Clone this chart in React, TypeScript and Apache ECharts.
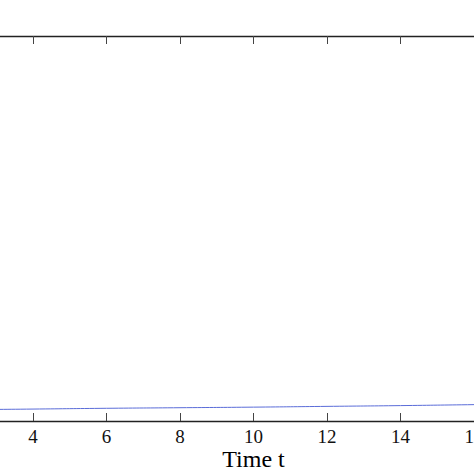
import * as echarts from 'echarts'
import { useEffect, useRef } from 'react'

// time samples and the (small) state value
const times = [0, 2, 4, 6, 8, 10, 12, 14, 16, 18, 20]
const values = [0.026, 0.029, 0.031, 0.033, 0.0345, 0.036, 0.038, 0.04, 0.0425, 0.045, 0.048]
const xTicks = [0, 2, 4, 6, 8, 10, 12, 14, 16, 18, 20]

const serif = 'Liberation Serif, Times New Roman, serif'

export default function App() {
  const ref = useRef<HTMLDivElement | null>(null)

  useEffect(() => {
    if (!ref.current) return
    const chart = echarts.init(ref.current, undefined, { renderer: 'svg' })

    const axisCommon = {
      type: 'value' as const,
      min: xTicks[0],
      max: xTicks[xTicks.length - 1],
      interval: 2,
      axisLine: { show: true, onZero: false, lineStyle: { color: '#222', width: 1.3 } },
      axisTick: { show: true, inside: true, length: 8, lineStyle: { color: '#444', width: 1 } },
      splitLine: { show: false },
    }

    chart.setOption({
      animation: false,
      backgroundColor: '#fff',
      grid: {
        left: -114,
        right: -147,
        top: 36,
        bottom: 53,
        show: false,
        containLabel: false,
        outerBoundsMode: 'none',
      },
      xAxis: [
        {
          ...axisCommon,
          position: 'bottom',
          name: 'Time t',
          nameLocation: 'middle',
          nameGap: 38,
          nameMoveOverlap: false,
          nameTextStyle: { fontFamily: serif, fontSize: 24, color: '#000', verticalAlign: 'middle' },
          axisLabel: { fontFamily: serif, fontSize: 19, color: '#111', margin: 6 },
        },
        {
          ...axisCommon,
          position: 'top',
          axisLabel: { show: false },
        },
      ],
      yAxis: {
        type: 'value',
        min: 0,
        max: 1,
        axisLine: { show: false },
        axisTick: { show: false },
        axisLabel: { show: false },
        splitLine: { show: false },
      },
      series: [
        {
          type: 'line',
          data: times.map((t, i) => [t, values[i]]),
          smooth: true,
          showSymbol: false,
          symbol: 'none',
          lineStyle: { color: '#5a6cd8', width: 1 },
        },
      ],
    })

    return () => chart.dispose()
  }, [])

  return (
    <div
      ref={ref}
      style={{ position: 'fixed', left: 0, top: 0, width: 474, height: 474, background: '#fff' }}
    />
  )
}
